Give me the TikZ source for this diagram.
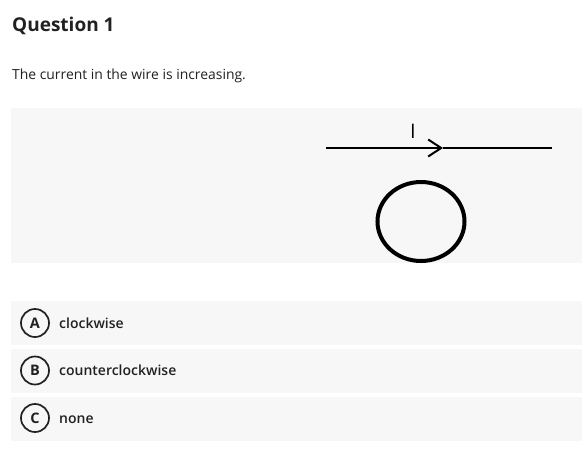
\documentclass[tikz,border=0pt]{standalone}
\usepackage{fontspec}
\setmainfont{Open Sans}
\newfontfamily\semibold{Open Sans Semibold}
\usetikzlibrary{arrows.meta}
\definecolor{panelgray}{HTML}{F7F7F7}
\definecolor{inkdark}{HTML}{212121}

\begin{document}
\begin{tikzpicture}[x=1pt,y=-1pt,
    panel/.style={fill=panelgray},
    ring/.style={draw=inkdark,line width=1.7pt},
    letter/.style={inner sep=0pt,text=inkdark,font=\bfseries\fontsize{14.5}{14.5}\selectfont},
    answer/.style={anchor=base west,inner sep=0pt,text=inkdark,font=\semibold\fontsize{14}{14}\selectfont}]
  \useasboundingbox (0,0) rectangle (582,451);
  % heading and question
  \node[anchor=base west,inner sep=0pt,text=inkdark,font=\bfseries\fontsize{19}{19}\selectfont] (title) at (12,31) {Question 1};
  \node[anchor=base west,inner sep=0pt,text=inkdark,font=\fontsize{13.9}{13.9}\selectfont] (stem) at (12,79.5) {The current in the wire is increasing.};
  % figure panel
  \fill[panel] (11,108) rectangle (582,263);
  \coordinate (wl) at (326,148);
  \coordinate (wm) at (443,148);
  \coordinate (wr) at (552,148);
  \draw[line width=2pt,-{Straight Barb[length=13pt,width=17pt,line width=2pt]}] (wl) -- (wm);
  \draw[line width=2pt] (wm) -- (wr);
  \node[inner sep=0pt,font=\fontsize{20}{20}\selectfont] (cur) at (413,131) {I};
  \draw[line width=4pt] (421,221.5) ellipse (43.5pt and 39.5pt);
  % answer choices
  \fill[panel] (11,301) rectangle (582,345);
  \fill[panel] (11,349) rectangle (582,393);
  \fill[panel] (11,397) rectangle (582,441);
  \draw[ring] (35,323) circle (14pt);
  \draw[ring] (35,370.5) circle (14pt);
  \draw[ring] (35,418) circle (14pt);
  \node[letter] (optA) at (35,323) {A};
  \node[letter] (optB) at (35,370.5) {B};
  \node[letter] (optC) at (35,418) {C};
  \node[answer] (ansA) at (59,328) {clockwise};
  \node[answer] (ansB) at (59,375.5) {counterclockwise};
  \node[answer] (ansC) at (59,423) {none};
\end{tikzpicture}
\end{document}
